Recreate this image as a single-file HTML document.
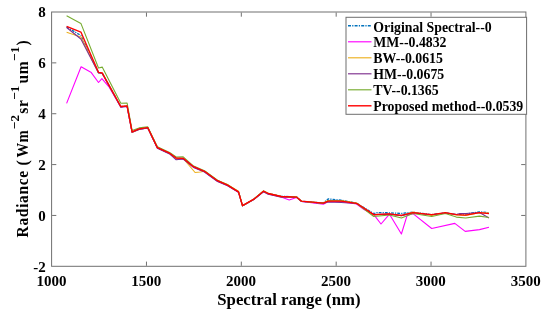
<!DOCTYPE html>
<html><head><meta charset="utf-8"><title>Spectral radiance comparison</title>
<style>
html,body{margin:0;padding:0;background:#fff;}
body{width:550px;height:313px;overflow:hidden;}
svg{display:block;}
text{font-family:"Liberation Serif","Times New Roman",serif;font-weight:bold;fill:#000;}
.tk{font-size:15px;}
.lb{font-size:16.9px;}
.xl{font-size:16.75px;}
.lg{font-size:13.8px;}
.sp{font-size:13px;}
.ax{stroke:#707070;stroke-width:1;fill:none;}
.ln{fill:none;stroke-width:1.1;stroke-linejoin:round;}
</style></head><body>
<svg width="550" height="313" viewBox="0 0 550 313">
<rect width="550" height="313" fill="#fff"/>

<polyline class="ln" style="stroke-width:1.3" stroke="#0072bd" stroke-dasharray="2.8 1.1 1.2 1.1" points="66.6,27.0 80.9,35.5 98.5,72.6 102.2,73.1 120.8,106.7 127.1,106.1 132.1,132.1 139.1,129.2 147.8,127.8 157.4,147.8 169.6,153.4 176.2,158.5 183.2,158.5 193.6,166.9 204.5,171.5 217.5,180.9 227.6,185.2 238.5,191.9 242.5,205.7 253.8,199.3 263.5,191.3 268.2,193.7 281.2,196.3 296.5,196.8 301.5,201.2 323.4,203.1 328.1,198.9 333.0,199.4 341.2,200.1 356.5,203.1 373.8,213.6 376.5,212.6 389.5,212.8 401.4,213.5 413.0,212.2 431.7,214.7 445.4,212.9 456.3,214.6 465.7,214.0 479.5,211.8 489.0,212.7"/>
<polyline class="ln" stroke="#ff00ff" points="66.6,103.4 81.1,66.8 91.3,72.6 98.5,82.5 101.9,78.7 109.2,87.2 120.8,107.0 127.1,106.3 132.1,132.3 139.1,129.3 147.8,128.0 157.4,148.0 169.6,153.6 176.2,159.2 183.2,158.8 193.6,167.2 204.5,171.8 217.5,181.2 227.6,185.5 238.5,192.2 242.5,205.7 253.8,199.4 263.5,191.6 268.2,194.0 281.2,196.9 289.2,199.9 296.5,197.4 301.5,201.5 323.4,204.3 328.1,201.6 341.2,201.6 356.5,204.0 364.0,209.6 373.8,214.6 381.0,224.0 389.5,214.2 401.4,234.0 407.2,215.2 413.0,213.6 431.7,228.5 454.8,223.4 465.2,231.4 479.5,229.6 489.0,227.3"/>
<polyline class="ln" stroke="#edb120" points="66.6,32.3 80.9,36.9 98.5,72.8 102.2,73.2 120.8,106.8 127.1,105.9 132.1,132.4 139.1,129.2 147.8,127.7 157.4,147.6 169.6,153.2 176.2,158.5 183.2,158.3 195.1,172.5 200.2,172.0 204.5,171.3 217.5,180.4 227.6,184.6 238.5,191.3 242.5,205.7 253.8,199.2 263.5,190.9 268.2,193.5 281.2,196.2 296.5,196.8 301.5,201.2 323.4,203.1 328.1,200.6 341.2,200.5 356.5,203.0 373.8,214.9 389.5,214.2 401.4,215.8 413.0,212.1 431.7,215.5 445.4,213.0 456.3,215.0 465.7,215.4 479.5,212.7 489.0,213.0"/>
<polyline class="ln" stroke="#7e2f8e" points="66.6,27.5 80.9,39.0 98.5,73.0 102.2,73.4 120.8,107.2 127.1,106.4 132.1,132.3 139.1,129.5 147.8,128.0 157.4,148.2 169.6,153.9 176.2,159.8 183.2,159.0 193.6,167.4 204.5,172.0 217.5,181.6 227.6,185.7 238.5,192.2 242.5,205.7 253.8,199.5 263.5,191.7 268.2,194.2 281.2,197.1 296.5,197.4 301.5,201.5 323.4,203.4 328.1,202.0 341.2,202.5 356.5,203.5 373.8,214.6 389.5,214.1 401.4,215.6 413.0,213.0 431.7,214.8 445.4,213.0 456.3,214.5 460.0,213.5 465.7,213.5 479.5,212.5 489.0,218.0"/>
<polyline class="ln" stroke="#77ac30" points="66.6,15.8 80.9,23.4 98.5,68.0 102.2,67.1 120.8,103.3 127.1,103.0 132.1,130.6 139.1,127.9 147.8,126.9 157.4,146.8 169.6,152.4 176.2,157.0 183.2,156.8 193.6,166.1 204.5,170.8 217.5,180.2 227.6,184.7 238.5,191.6 242.5,205.7 253.8,199.2 263.5,190.9 268.2,193.3 281.2,196.5 296.5,197.1 301.5,201.2 323.4,203.1 328.1,200.8 341.2,200.8 356.5,203.3 373.8,216.5 389.5,215.0 401.4,218.0 413.0,213.5 431.7,216.5 445.4,213.5 456.3,217.1 465.7,218.0 479.5,216.1 489.0,217.5"/>
<polyline class="ln" stroke="#ff0000" style="stroke-width:1.35" points="66.6,26.3 80.9,32.1 98.5,72.3 102.2,72.9 120.8,106.5 127.1,105.9 132.1,131.8 139.1,128.9 147.8,127.7 157.4,147.6 169.6,153.2 176.2,158.0 183.2,158.3 193.6,166.7 204.5,171.3 217.5,180.7 227.6,185.1 238.5,191.9 242.5,205.7 253.8,199.2 263.5,191.2 268.2,193.5 281.2,196.5 296.5,197.1 301.5,201.2 323.4,203.1 328.1,201.1 341.2,201.1 356.5,203.3 373.8,214.6 389.5,213.8 401.4,215.4 413.0,212.7 431.7,214.6 445.4,212.7 456.3,214.6 465.7,215.1 479.5,212.7 489.0,213.6"/>
<rect class="ax" x="51.6" y="12.0" width="474.30" height="254.30"/>
<text class="tk" x="51.40" y="285.5" text-anchor="middle">1000</text>
<path class="ax" d="M146.46 265.8v-4.2M146.46 12.5v4.2"/>
<text class="tk" x="146.26" y="285.5" text-anchor="middle">1500</text>
<path class="ax" d="M241.32 265.8v-4.2M241.32 12.5v4.2"/>
<text class="tk" x="241.12" y="285.5" text-anchor="middle">2000</text>
<path class="ax" d="M336.18 265.8v-4.2M336.18 12.5v4.2"/>
<text class="tk" x="335.98" y="285.5" text-anchor="middle">2500</text>
<path class="ax" d="M431.04 265.8v-4.2M431.04 12.5v4.2"/>
<text class="tk" x="430.84" y="285.5" text-anchor="middle">3000</text>
<text class="tk" x="525.70" y="285.5" text-anchor="middle">3500</text>
<text class="tk" x="45.8" y="272.20" text-anchor="end">-2</text>
<path class="ax" d="M52.1 215.44h4.2M525.4 215.44h-4.2"/>
<text class="tk" x="45.8" y="220.54" text-anchor="end">0</text>
<path class="ax" d="M52.1 164.58h4.2M525.4 164.58h-4.2"/>
<text class="tk" x="45.8" y="169.68" text-anchor="end">2</text>
<path class="ax" d="M52.1 113.72h4.2M525.4 113.72h-4.2"/>
<text class="tk" x="45.8" y="118.82" text-anchor="end">4</text>
<path class="ax" d="M52.1 62.86h4.2M525.4 62.86h-4.2"/>
<text class="tk" x="45.8" y="67.96" text-anchor="end">6</text>
<text class="tk" x="45.8" y="17.10" text-anchor="end">8</text>
<text class="xl" x="288.9" y="305.2" text-anchor="middle">Spectral range (nm)</text>
<g transform="translate(28,0) rotate(-90)"><text class="lb" transform="translate(-237.4,0) scale(0.915,1)" letter-spacing="0.75">Radiance (</text><text class="lb" transform="translate(-157.6,0) scale(0.87,1)" letter-spacing="0.6">Wm</text><text class="sp" x="-129.2" y="-8.8">−</text><text class="sp" x="-121.6" y="-8.8">2</text><text class="lb" transform="translate(-113.7,0) scale(0.915,1)" letter-spacing="0.75">sr</text><text class="sp" x="-99.8" y="-8.8">−</text><text class="sp" x="-92.2" y="-8.8">1</text><text class="lb" transform="translate(-83.5,0) scale(0.915,1)" letter-spacing="0.75">um</text><text class="sp" x="-61" y="-8.8">−</text><text class="sp" x="-53" y="-8.8">1</text><text class="lb" transform="translate(-45.6,0) scale(0.915,1)" letter-spacing="0.75">)</text></g>
<rect x="346" y="17.3" width="180.6" height="97" fill="#fff" stroke="#6e6e6e" stroke-width="1"/>
<path d="M348 25.8H371.5" stroke="#0072bd" stroke-width="1.6" fill="none" stroke-dasharray="3 1.2 1.2 1.2"/>
<text class="lg" x="373.3" y="31.60">Original Spectral--0</text>
<path d="M348 41.8H371.5" stroke="#ff00ff" stroke-width="1.15" fill="none"/>
<text class="lg" x="373.3" y="47.40">MM--0.4832</text>
<path d="M348 57.8H371.5" stroke="#edb120" stroke-width="1.15" fill="none"/>
<text class="lg" x="373.3" y="63.20">BW--0.0615</text>
<path d="M348 73.8H371.5" stroke="#7e2f8e" stroke-width="1.15" fill="none"/>
<text class="lg" x="373.3" y="79.00">HM--0.0675</text>
<path d="M348 89.8H371.5" stroke="#77ac30" stroke-width="1.15" fill="none"/>
<text class="lg" x="373.3" y="94.80">TV--0.1365</text>
<path d="M348 105.8H371.5" stroke="#ff0000" stroke-width="1.4" fill="none"/>
<text class="lg" x="373.3" y="110.60">Proposed method--0.0539</text>
</svg></body></html>
